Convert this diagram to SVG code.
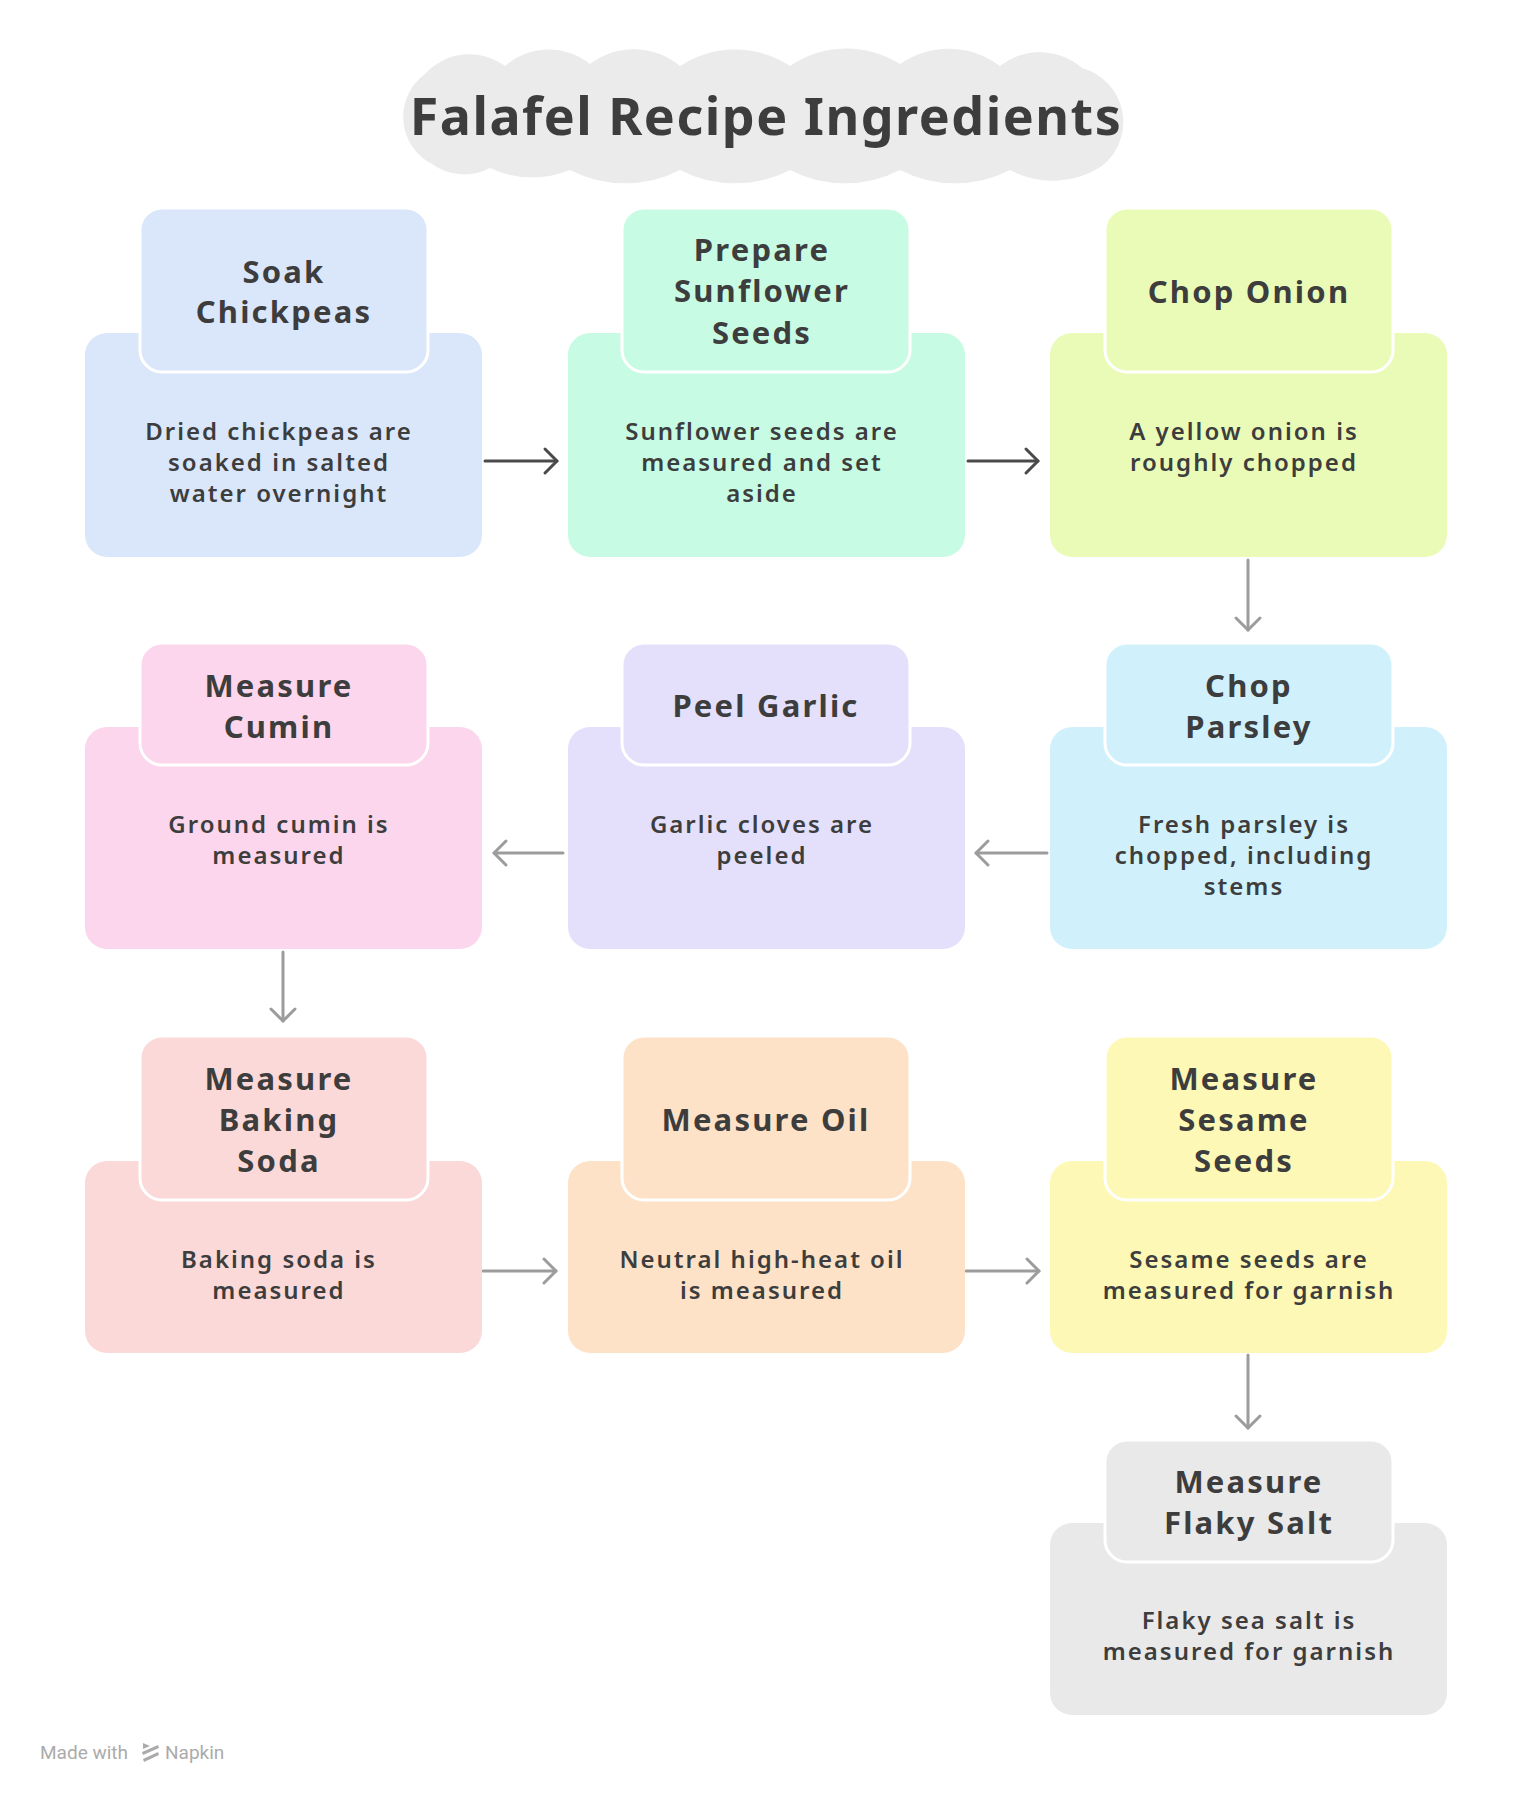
<svg xmlns="http://www.w3.org/2000/svg" width="1532" height="1800" viewBox="0 0 1532 1800">
  <defs>
    <style>
      .hdr { stroke: #ffffff; stroke-width: 3; }
      .ht { font-family: "Noto Sans", "Liberation Sans", sans-serif; font-weight: 700; font-size: 31px; letter-spacing: 2.2px; fill: #3d3d3d; text-anchor: middle; }
      .bt { font-family: "Noto Sans", "Liberation Sans", sans-serif; font-weight: 600; font-size: 24px; letter-spacing: 2px; fill: #3d3d3d; text-anchor: middle; }
      .title { font-family: "Noto Sans", "Liberation Sans", sans-serif; font-weight: 700; font-size: 52px; letter-spacing: 1.5px; fill: #3d3d3d; text-anchor: middle; }
      .dark { fill: none; stroke: #4a4a4a; stroke-width: 3; stroke-linecap: round; }
      .gray { fill: none; stroke: #9c9c9c; stroke-width: 3; stroke-linecap: round; }
      .wm { font-family: "Roboto", "Inter", "Liberation Sans", sans-serif; font-size: 19px; fill: #ababab; }
    </style>
    <marker id="ahDark" markerUnits="userSpaceOnUse" viewBox="-16 -16 20 32" refX="0" refY="0" markerWidth="20" markerHeight="32" orient="auto" overflow="visible">
      <path d="M -12 -12 L 0 0 L -12 12" fill="none" stroke="#4a4a4a" stroke-width="3" stroke-linecap="round" stroke-linejoin="round"/>
    </marker>
    <marker id="ahGray" markerUnits="userSpaceOnUse" viewBox="-16 -16 20 32" refX="0" refY="0" markerWidth="20" markerHeight="32" orient="auto" overflow="visible">
      <path d="M -12 -12 L 0 0 L -12 12" fill="none" stroke="#9c9c9c" stroke-width="3" stroke-linecap="round" stroke-linejoin="round"/>
    </marker>
  </defs>

  <rect x="0" y="0" width="1532" height="1800" fill="#ffffff"/>

  <g id="title">
    <path d="M 432 164 A 53 53 0 0 1 425 74 A 60 60 0 0 1 505 66 A 66 66 0 0 1 590 64 A 72 72 0 0 1 680 66 A 100 100 0 0 1 790 66 A 100 100 0 0 1 900 64 A 85 85 0 0 1 1000 66 A 64 64 0 0 1 1082 68 A 56 56 0 0 1 1102 166 A 90 90 0 0 1 1010 170 A 120 120 0 0 1 900 170 A 120 120 0 0 1 790 170 A 120 120 0 0 1 680 170 A 120 120 0 0 1 570 170 A 100 100 0 0 1 490 168 A 55 55 0 0 1 432 164 Z" fill="#ebebeb"/>
    <text class="title" x="766" y="135">Falafel Recipe Ingredients</text>
  </g>

  <g id="connectors">
    <line class="dark" x1="485" y1="461" x2="557" y2="461" marker-end="url(#ahDark)"/>
    <line class="dark" x1="968" y1="461" x2="1038" y2="461" marker-end="url(#ahDark)"/>
    <line class="gray" x1="1248" y1="560" x2="1248" y2="630" marker-end="url(#ahGray)"/>
    <line class="gray" x1="1047" y1="853" x2="976" y2="853" marker-end="url(#ahGray)"/>
    <line class="gray" x1="563" y1="853" x2="494" y2="853" marker-end="url(#ahGray)"/>
    <line class="gray" x1="283" y1="952" x2="283" y2="1021" marker-end="url(#ahGray)"/>
    <line class="gray" x1="483" y1="1271" x2="556" y2="1271" marker-end="url(#ahGray)"/>
    <line class="gray" x1="966" y1="1271" x2="1039" y2="1271" marker-end="url(#ahGray)"/>
    <line class="gray" x1="1248" y1="1355" x2="1248" y2="1428" marker-end="url(#ahGray)"/>
  </g>

  <g id="node-soak-chickpeas">
    <rect x="85" y="333" width="397" height="224" rx="22" fill="#dae7fb"/>
    <rect class="hdr" x="140" y="208" width="288" height="164" rx="22" fill="#dae7fb"/>
    <text class="ht" x="284" y="283">Soak</text>
    <text class="ht" x="284" y="323">Chickpeas</text>
    <text class="bt" x="279" y="440">Dried chickpeas are</text>
    <text class="bt" x="279" y="471">soaked in salted</text>
    <text class="bt" x="279" y="502">water overnight</text>
  </g>

  <g id="node-prepare-sunflower-seeds">
    <rect x="568" y="333" width="397" height="224" rx="22" fill="#c8fbe3"/>
    <rect class="hdr" x="622" y="208" width="288" height="164" rx="22" fill="#c8fbe3"/>
    <text class="ht" x="762" y="261">Prepare</text>
    <text class="ht" x="762" y="302">Sunflower</text>
    <text class="ht" x="762" y="344">Seeds</text>
    <text class="bt" x="762" y="440">Sunflower seeds are</text>
    <text class="bt" x="762" y="471">measured and set</text>
    <text class="bt" x="762" y="502">aside</text>
  </g>

  <g id="node-chop-onion">
    <rect x="1050" y="333" width="397" height="224" rx="22" fill="#eafbb8"/>
    <rect class="hdr" x="1105" y="208" width="288" height="164" rx="22" fill="#eafbb8"/>
    <text class="ht" x="1249" y="303">Chop Onion</text>
    <text class="bt" x="1244" y="440">A yellow onion is</text>
    <text class="bt" x="1244" y="471">roughly chopped</text>
  </g>

  <g id="node-chop-parsley">
    <rect x="1050" y="727" width="397" height="222" rx="22" fill="#d0f1fb"/>
    <rect class="hdr" x="1105" y="643" width="288" height="122" rx="22" fill="#d0f1fb"/>
    <text class="ht" x="1249" y="697">Chop</text>
    <text class="ht" x="1249" y="738">Parsley</text>
    <text class="bt" x="1244" y="833">Fresh parsley is</text>
    <text class="bt" x="1244" y="864">chopped, including</text>
    <text class="bt" x="1244" y="895">stems</text>
  </g>

  <g id="node-peel-garlic">
    <rect x="568" y="727" width="397" height="222" rx="22" fill="#e4e0fb"/>
    <rect class="hdr" x="622" y="643" width="288" height="122" rx="22" fill="#e4e0fb"/>
    <text class="ht" x="766" y="717">Peel Garlic</text>
    <text class="bt" x="762" y="833">Garlic cloves are</text>
    <text class="bt" x="762" y="864">peeled</text>
  </g>

  <g id="node-measure-cumin">
    <rect x="85" y="727" width="397" height="222" rx="22" fill="#fbd6ec"/>
    <rect class="hdr" x="140" y="643" width="288" height="122" rx="22" fill="#fbd6ec"/>
    <text class="ht" x="279" y="697">Measure</text>
    <text class="ht" x="279" y="738">Cumin</text>
    <text class="bt" x="279" y="833">Ground cumin is</text>
    <text class="bt" x="279" y="864">measured</text>
  </g>

  <g id="node-measure-baking-soda">
    <rect x="85" y="1161" width="397" height="192" rx="22" fill="#fbd9d9"/>
    <rect class="hdr" x="140" y="1036" width="288" height="164" rx="22" fill="#fbd9d9"/>
    <text class="ht" x="279" y="1090">Measure</text>
    <text class="ht" x="279" y="1131">Baking</text>
    <text class="ht" x="279" y="1172">Soda</text>
    <text class="bt" x="279" y="1268">Baking soda is</text>
    <text class="bt" x="279" y="1299">measured</text>
  </g>

  <g id="node-measure-oil">
    <rect x="568" y="1161" width="397" height="192" rx="22" fill="#fde2c8"/>
    <rect class="hdr" x="622" y="1036" width="288" height="164" rx="22" fill="#fde2c8"/>
    <text class="ht" x="766" y="1131">Measure Oil</text>
    <text class="bt" x="762" y="1268">Neutral high-heat oil</text>
    <text class="bt" x="762" y="1299">is measured</text>
  </g>

  <g id="node-measure-sesame-seeds">
    <rect x="1050" y="1161" width="397" height="192" rx="22" fill="#fdf8b5"/>
    <rect class="hdr" x="1105" y="1036" width="288" height="164" rx="22" fill="#fdf8b5"/>
    <text class="ht" x="1244" y="1090">Measure</text>
    <text class="ht" x="1244" y="1131">Sesame</text>
    <text class="ht" x="1244" y="1172">Seeds</text>
    <text class="bt" x="1249" y="1268">Sesame seeds are</text>
    <text class="bt" x="1249" y="1299">measured for garnish</text>
  </g>

  <g id="node-measure-flaky-salt">
    <rect x="1050" y="1523" width="397" height="192" rx="22" fill="#e9e9e9"/>
    <rect class="hdr" x="1105" y="1440" width="288" height="122" rx="22" fill="#e9e9e9"/>
    <text class="ht" x="1249" y="1493">Measure</text>
    <text class="ht" x="1249" y="1534">Flaky Salt</text>
    <text class="bt" x="1249" y="1629">Flaky sea salt is</text>
    <text class="bt" x="1249" y="1660">measured for garnish</text>
  </g>

  <g id="watermark">
    <text class="wm" x="40" y="1759">Made with</text>
    <g fill="#ababab">
      <polygon points="143,1743 150,1746 143,1749"/>
      <polygon points="142,1752 158,1745 159,1748 143,1755"/>
      <polygon points="143,1759 158,1752 159,1755 144,1762"/>
    </g>
    <text class="wm" x="165" y="1759">Napkin</text>
  </g>
</svg>
